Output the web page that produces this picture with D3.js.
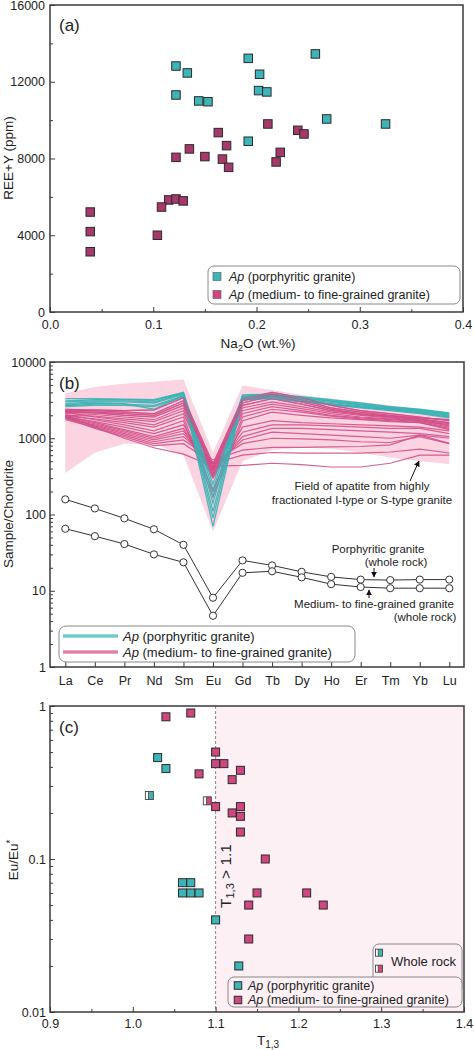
<!DOCTYPE html>
<html><head><meta charset="utf-8">
<script src="https://cdn.jsdelivr.net/npm/d3@7"></script>
<style>body{margin:0;background:#fff}svg{display:block;font-family:"Liberation Sans",Arial,sans-serif}</style>
</head><body><svg id="chart" width="474" height="1050"></svg>
<script>
// ---------- DATA ----------
// Panel (a): Na2O (wt.%) vs REE+Y (ppm)
const porphNa2O = [0.122,0.133,0.122,0.144,0.153,0.192,0.203,0.202,0.210,0.257,0.268,0.325,0.192];
const porphREEY = [12820,12460,11310,11000,10960,13220,12390,11540,11470,13450,10060,9800,8900];
const mediumNa2O = [0.211,0.163,0.135,0.171,0.240,0.246,0.223,0.122,0.150,0.167,0.173,0.219,0.115,0.122,0.129,0.108,0.039,0.039,0.039,0.104];
const mediumREEY = [9800,9350,8500,8670,9470,9280,8320,8060,8100,7970,7540,7820,5840,5890,5790,5470,5210,4190,3140,4000];
const xTicksA = [0, 0.1, 0.2, 0.3, 0.4];
const yTicksA = [0, 4000, 8000, 12000, 16000];

// Panel (b): chondrite-normalised REE patterns
const reeElements = ["La","Ce","Pr","Nd","Sm","Eu","Gd","Tb","Dy","Ho","Er","Tm","Yb","Lu"];
const apPorphyriticREE = [
  [3300,3300,3250,3200,4000,250,3700,3800,3500,3200,2900,2600,2400,2150],
  [3100,3200,3200,3150,3900,210,3600,3700,3400,3100,2800,2550,2350,2100],
  [3000,3100,3100,3000,3850,170,3500,3650,3350,3050,2750,2500,2300,2050],
  [2850,3000,3000,2900,3750,140,3450,3550,3250,2950,2650,2450,2250,2000],
  [2750,2900,2850,2400,3650,110,3350,3450,3150,2850,2600,2400,2200,1950],
  [2650,2800,2800,2700,3600,90,3250,3350,3050,2800,2550,2350,2150,1900],
  [2600,2700,2700,2600,3500,70,3200,3300,3000,2750,2500,2300,2100,1850]
];
const apMediumREE = [
  [2400,2350,2300,2350,3400,460,3300,4000,3400,2700,2300,2100,1900,1700],
  [2300,2300,2200,2100,3100,420,3100,3800,3200,2500,2200,2000,1850,1750],
  [2250,2200,2100,2000,2900,400,2900,3600,3000,2400,2100,1950,1800,1600],
  [2200,2150,2000,1900,2700,380,2700,3300,2800,2300,2050,1900,1750,1550],
  [2100,2050,1900,1750,2500,350,2500,3000,2600,2200,2000,1850,1700,1500],
  [2000,1950,1800,1650,2300,330,2300,2800,2450,2100,1900,1800,1700,1450],
  [2200,1900,1700,1500,2100,310,2100,2600,2300,2000,1850,1750,1650,1400],
  [1950,1800,1600,1400,1900,200,1900,2400,2200,1950,1800,1700,1600,1350],
  [2050,1750,1500,1250,1700,170,1700,2200,2000,1850,1750,1650,1600,1300],
  [1900,1650,1400,1150,1500,300,1400,1700,1600,1550,1500,1450,1400,1250],
  [1950,1600,1300,1050,1350,340,1200,1500,1500,1450,1400,1350,1350,1150],
  [1850,1550,1250,1000,1250,380,1050,1350,1350,1300,1250,1200,1150,1050],
  [1800,1500,1200,950,1150,420,950,1200,1150,1100,1050,1000,1100,1000],
  [1900,1450,1150,900,1050,480,850,1000,980,950,900,880,1050,850],
  [1750,1400,1100,850,950,520,700,760,760,770,780,820,1100,860],
  [1850,1350,1050,800,850,470,600,650,640,640,640,660,720,640],
  [2000,1400,1000,750,620,430,440,470,450,420,420,470,600,600]
];
const fieldUpper = [3900,4700,5200,5500,5900,650,4900,4300,3700,3300,3000,2700,2400,2150];
const fieldLower = [350,650,850,850,600,60,500,700,750,730,650,560,500,460];
const wholeRockPorphyritic = [158,120,89,64,40,8.1,25,21.5,17.7,15.2,14,13.8,14,14];
const wholeRockMedium = [65,52,41,30,23.6,4.7,17.2,18,15,12.2,11.2,10.8,10.8,10.8];
const yTicksB = [1, 10, 100, 1000, 10000];

// Panel (c): T1,3 vs Eu/Eu*
const porphT13 = [1.03,1.04,1.06,1.07,1.06,1.07,1.08,1.10,1.128];
const porphEu = [0.46,0.39,0.07,0.07,0.06,0.06,0.06,0.04,0.02];
const mediumT13 = [1.04,1.07,1.10,1.10,1.11,1.08,1.13,1.12,1.10,1.13,1.12,1.13,1.13,1.16,1.15,1.21,1.14,1.23,1.14];
const mediumEu = [0.85,0.90,0.50,0.42,0.42,0.36,0.38,0.33,0.22,0.22,0.20,0.19,0.15,0.10,0.06,0.06,0.05,0.05,0.03];
const wholeRockT13 = [1.02, 1.09];
const wholeRockEu = [0.26, 0.24];
const wholeRockGroup = ["porph", "medium"];
const xTicksC = [0.9, 1.0, 1.1, 1.2, 1.3, 1.4];
const yTicksC = [0.01, 0.1, 1];
const t13Threshold = 1.1;

// ---------- STYLE ----------
const cyan = "#3db5b8", cyanLine = "#35b2b4";
const maroon = "#a8386b", magenta = "#d0467f", magentaLine = "#d24f88";
const pinkField = "#fbd3e1", pinkBg = "#fdf0f5";
const frameCol = "#3a3a3a", textCol = "#222";
const FS = 12.5;

const svg = d3.select("#chart");

function styleAxis(g) {
  g.select(".domain").remove();
  g.selectAll("line").attr("stroke", frameCol).attr("stroke-width", 1);
  g.selectAll("text").attr("fill", textCol).attr("font-size", FS)
    .attr("font-family", '"Liberation Sans",Arial,sans-serif');
}
function frame(x0, y0, x1, y1) {
  svg.append("rect").attr("x", x0).attr("y", y0).attr("width", x1 - x0).attr("height", y1 - y0)
    .attr("fill", "none").attr("stroke", frameCol).attr("stroke-width", 1.5);
}
function sq(g, cx, cy, fill, s) {
  g.append("rect").attr("x", cx - s / 2).attr("y", cy - s / 2).attr("width", s).attr("height", s)
    .attr("fill", fill).attr("stroke", "#2a2a2a").attr("stroke-width", 1);
}
function apLabel(g, x, y, rest, size) {
  const t = g.append("text").attr("x", x).attr("y", y).attr("font-size", size || FS).attr("fill", textCol);
  t.append("tspan").attr("font-style", "italic").text("Ap");
  t.append("tspan").text(" " + rest);
  return t;
}
function minorLog(lo, hi) {
  const out = [];
  for (let d = lo; d < hi; d *= 10) for (let m = 2; m <= 9; m++) out.push(d * m);
  return out;
}

// ================= PANEL (a) =================
const xA = d3.scaleLinear().domain([0, 0.4]).range([50, 463]);
const yA = d3.scaleLinear().domain([0, 16000]).range([312, 5]);
const gA = svg.append("g");
gA.append("g").attr("transform", "translate(0,312)")
  .call(d3.axisBottom(xA).tickValues(xTicksA).tickFormat(d3.format(".1f")).tickSize(-5).tickPadding(8)).call(styleAxis);
gA.append("g").attr("transform", "translate(0,312)")
  .call(d3.axisBottom(xA).tickValues(d3.range(0.05, 0.4, 0.1)).tickFormat("").tickSize(-3)).call(styleAxis);
gA.append("g").attr("transform", "translate(50,0)")
  .call(d3.axisLeft(yA).tickValues(yTicksA).tickSize(-5).tickPadding(5).tickFormat(d3.format("d"))).call(styleAxis);
gA.append("g").attr("transform", "translate(50,0)")
  .call(d3.axisLeft(yA).tickValues(d3.range(2000, 16000, 4000)).tickFormat("").tickSize(-3)).call(styleAxis);
// nudge the "0" label up a touch so it does not collide with "0.0"
gA.selectAll("g.tick text").filter(d => d === 0 && false);
frame(50, 5, 463, 312);
porphNa2O.forEach((v, i) => sq(gA, xA(v), yA(porphREEY[i]), cyan, 8.5));
mediumNa2O.forEach((v, i) => sq(gA, xA(v), yA(mediumREEY[i]), maroon, 8.5));
gA.append("text").attr("x", 59).attr("y", 31).attr("font-size", 17).attr("fill", textCol).text("(a)");
// legend
gA.append("rect").attr("x", 208).attr("y", 266).attr("width", 252).attr("height", 38).attr("rx", 6)
  .attr("fill", "#fff").attr("stroke", "#888").attr("stroke-width", 1);
gA.append("rect").attr("x", 213).attr("y", 272.5).attr("width", 8).attr("height", 8).attr("fill", cyan).attr("stroke", "#555").attr("stroke-width", 0.6);
gA.append("rect").attr("x", 213).attr("y", 290.5).attr("width", 8).attr("height", 8).attr("fill", magenta).attr("stroke", "#555").attr("stroke-width", 0.6);
apLabel(gA, 229, 281, "(porphyritic granite)");
apLabel(gA, 229, 299, "(medium- to fine-grained granite)");
// axis titles
gA.append("text").attr("transform", "translate(13,158) rotate(-90)").attr("text-anchor", "middle")
  .attr("font-size", 13.5).attr("fill", textCol).text("REE+Y (ppm)");
const naT = gA.append("text").attr("x", 258).attr("y", 348).attr("text-anchor", "middle").attr("font-size", 13.5).attr("fill", textCol);
naT.append("tspan").text("Na");
naT.append("tspan").attr("font-size", 9).attr("dy", 3).text("2");
naT.append("tspan").attr("dy", -3).text("O (wt.%)");

// ================= PANEL (b) =================
const xB = d3.scalePoint().domain(reeElements).range([65.3, 449.3]);
const yB = d3.scaleLog().domain([1, 10000]).range([667, 362]);
const gB = svg.append("g");
gB.append("g").attr("transform", "translate(0,667)")
  .call(d3.axisBottom(xB).tickSize(-5).tickPadding(9)).call(styleAxis);
gB.append("g").attr("transform", "translate(50,0)")
  .call(d3.axisLeft(yB).tickValues(yTicksB).tickFormat(d3.format("d")).tickSize(-5).tickPadding(4)).call(styleAxis);
gB.append("g").attr("transform", "translate(50,0)")
  .call(d3.axisLeft(yB).tickValues(minorLog(1, 10000)).tickFormat("").tickSize(-3)).call(styleAxis);

// pink field
const fieldPts = reeElements.map((e, i) => [xB(e), yB(fieldUpper[i])])
  .concat(reeElements.map((e, i) => [xB(e), yB(fieldLower[i])]).reverse());
gB.append("path").attr("d", d3.line()(fieldPts) + "Z").attr("fill", pinkField).attr("stroke", "none");

const lineB = d3.line().x((d, i) => xB(reeElements[i])).y(d => yB(d));
apMediumREE.forEach(r => gB.append("path").attr("d", lineB(r)).attr("fill", "none")
  .attr("stroke", magentaLine).attr("stroke-width", 1.2).attr("stroke-opacity", 0.9));
apPorphyriticREE.forEach(r => gB.append("path").attr("d", lineB(r)).attr("fill", "none")
  .attr("stroke", cyanLine).attr("stroke-width", 1.3).attr("stroke-opacity", 0.9));
apMediumREE.slice(0, 4).forEach(r => gB.append("path").attr("d", lineB(r)).attr("fill", "none")
  .attr("stroke", magentaLine).attr("stroke-width", 1.1).attr("stroke-opacity", 0.8));

[wholeRockPorphyritic, wholeRockMedium].forEach(r => {
  gB.append("path").attr("d", lineB(r)).attr("fill", "none").attr("stroke", "#333").attr("stroke-width", 1);
  r.forEach((v, i) => gB.append("circle").attr("cx", xB(reeElements[i])).attr("cy", yB(v)).attr("r", 3.6)
    .attr("fill", "#fff").attr("stroke", "#333").attr("stroke-width", 1));
});
frame(50, 362, 464, 667);
gB.append("text").attr("x", 59).attr("y", 389).attr("font-size", 17).attr("fill", textCol).text("(b)");

// annotations
const ann = gB.append("g").attr("font-size", 11.5).attr("fill", textCol).attr("text-anchor", "middle");
ann.append("text").attr("x", 362).attr("y", 490).text("Field of apatite from highly");
ann.append("text").attr("x", 362).attr("y", 504).text("fractionated I-type or S-type granite");
ann.append("text").attr("x", 378).attr("y", 553).text("Porphyritic granite");
ann.append("text").attr("x", 396).attr("y", 566).text("(whole rock)");
ann.append("text").attr("x", 374).attr("y", 608).text("Medium- to fine-grained granite");
ann.append("text").attr("x", 425).attr("y", 621).text("(whole rock)");
svg.append("defs").append("marker").attr("id", "ah").attr("viewBox", "0 0 10 10").attr("refX", 9).attr("refY", 5)
  .attr("markerWidth", 6).attr("markerHeight", 6).attr("orient", "auto")
  .append("path").attr("d", "M0,0L10,5L0,10Z").attr("fill", "#111");
function arrow(x1, y1, x2, y2) {
  gB.append("line").attr("x1", x1).attr("y1", y1).attr("x2", x2).attr("y2", y2)
    .attr("stroke", "#111").attr("stroke-width", 1).attr("marker-end", "url(#ah)");
}
arrow(410, 481, 419, 461);
arrow(374, 568, 374, 577);
arrow(369, 598, 369, 590);

// legend b
gB.append("rect").attr("x", 59).attr("y", 626).attr("width", 296).attr("height", 36).attr("rx", 7)
  .attr("fill", "#fff").attr("stroke", "#888").attr("stroke-width", 1);
[[636, cyanLine, "#c9eeee"], [652, magentaLine, "#f6c9dc"]].forEach(([y, c, c2]) => {
  gB.append("line").attr("x1", 63).attr("x2", 118).attr("y1", y).attr("y2", y).attr("stroke", c).attr("stroke-width", 3);
  gB.append("line").attr("x1", 63).attr("x2", 118).attr("y1", y).attr("y2", y).attr("stroke", c2).attr("stroke-width", 0.8);
});
apLabel(gB, 123, 640.5, "(porphyritic granite)", 13);
apLabel(gB, 123, 656.5, "(medium- to fine-grained granite)", 13);
gB.append("text").attr("transform", "translate(13,514) rotate(-90)").attr("text-anchor", "middle")
  .attr("font-size", 13.5).attr("fill", textCol).text("Sample/Chondrite");

// ================= PANEL (c) =================
const xC = d3.scaleLinear().domain([0.9, 1.4]).range([50, 464]);
const yC = d3.scaleLog().domain([0.01, 1]).range([1012, 706]);
const gC = svg.append("g");
gC.append("rect").attr("x", xC(t13Threshold)).attr("y", 706).attr("width", xC(1.4) - xC(t13Threshold))
  .attr("height", 1012 - 706).attr("fill", pinkBg);
gC.append("line").attr("x1", xC(t13Threshold)).attr("x2", xC(t13Threshold)).attr("y1", 706).attr("y2", 1012)
  .attr("stroke", "#888").attr("stroke-width", 1).attr("stroke-dasharray", "3,2");
gC.append("g").attr("transform", "translate(0,1012)")
  .call(d3.axisBottom(xC).tickValues(xTicksC).tickFormat(d3.format(".1f")).tickSize(-5).tickPadding(7)).call(styleAxis);
gC.append("g").attr("transform", "translate(0,1012)")
  .call(d3.axisBottom(xC).tickValues(d3.range(0.95, 1.4, 0.1)).tickFormat("").tickSize(-3)).call(styleAxis);
gC.append("g").attr("transform", "translate(50,0)")
  .call(d3.axisLeft(yC).tickValues(yTicksC).tickFormat(d => String(d)).tickSize(-5).tickPadding(4)).call(styleAxis);
gC.append("g").attr("transform", "translate(50,0)")
  .call(d3.axisLeft(yC).tickValues(minorLog(0.01, 1)).tickFormat("").tickSize(-3)).call(styleAxis);
frame(50, 706, 464, 1012);

porphT13.forEach((v, i) => sq(gC, xC(v), yC(porphEu[i]), cyan, 8));
mediumT13.forEach((v, i) => sq(gC, xC(v), yC(mediumEu[i]), magenta, 8));
function halfSq(g, cx, cy, fill, s) {
  g.append("rect").attr("x", cx - s / 2).attr("y", cy - s / 2).attr("width", s).attr("height", s).attr("fill", "#fff");
  g.append("rect").attr("x", cx - s / 2 + s * 0.4).attr("y", cy - s / 2).attr("width", s * 0.6).attr("height", s).attr("fill", fill);
  g.append("line").attr("x1", cx - s / 2 + s * 0.4).attr("x2", cx - s / 2 + s * 0.4).attr("y1", cy - s / 2).attr("y2", cy + s / 2)
    .attr("stroke", "#444").attr("stroke-width", 0.8);
  g.append("rect").attr("x", cx - s / 2).attr("y", cy - s / 2).attr("width", s).attr("height", s)
    .attr("fill", "none").attr("stroke", "#444").attr("stroke-width", 0.9);
}
wholeRockT13.forEach((v, i) => halfSq(gC, xC(v), yC(wholeRockEu[i]), wholeRockGroup[i] === "porph" ? cyan : magenta, 8));

gC.append("text").attr("x", 59).attr("y", 733).attr("font-size", 17).attr("fill", textCol).text("(c)");
const tt = gC.append("text").attr("transform", "translate(231,876) rotate(-90)").attr("text-anchor", "middle")
  .attr("font-size", 15.5).attr("fill", textCol);
tt.append("tspan").text("T");
tt.append("tspan").attr("font-size", 11).attr("dy", 3).text("1,3");
tt.append("tspan").attr("dy", -3).text(" > 1.1");

// legends c
gC.append("rect").attr("x", 373).attr("y", 944).attr("width", 89).attr("height", 50).attr("rx", 6)
  .attr("fill", pinkBg).attr("stroke", "#888").attr("stroke-width", 1);
halfSq(gC, 379, 952.7, cyan, 7);
halfSq(gC, 379, 968.7, magenta, 7);
gC.append("text").attr("x", 391).attr("y", 966).attr("font-size", 13).attr("fill", textCol).text("Whole rock");
gC.append("rect").attr("x", 228).attr("y", 977).attr("width", 234).attr("height", 30).attr("rx", 6)
  .attr("fill", pinkBg).attr("stroke", "#888").attr("stroke-width", 1);
sq(gC, 238, 985.5, cyan, 7.5);
sq(gC, 238, 1000, magenta, 7.5);
apLabel(gC, 248, 989.5, "(porphyritic granite)");
apLabel(gC, 248, 1004, "(medium- to fine-grained granite)");

gC.append("text").attr("transform", "translate(18,860) rotate(-90)").attr("text-anchor", "middle")
  .attr("font-size", 13.5).attr("fill", textCol)
  .call(t => { t.append("tspan").text("Eu/Eu"); t.append("tspan").attr("dy", -4).attr("font-size", 10).text("*"); });
const tx = gC.append("text").attr("x", 268).attr("y", 1045).attr("text-anchor", "middle").attr("font-size", 13.5).attr("fill", textCol);
tx.append("tspan").text("T");
tx.append("tspan").attr("font-size", 10).attr("dy", 3).text("1,3");
</script></body></html>
